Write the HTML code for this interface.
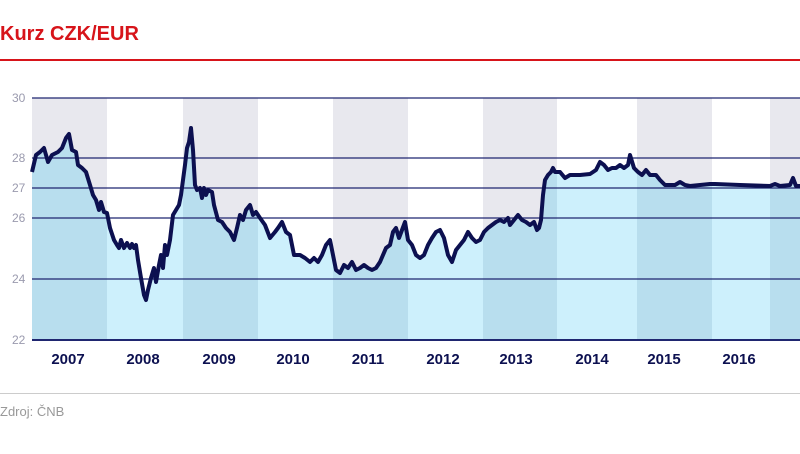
<!DOCTYPE html>
<html><head><meta charset="utf-8"><style>
body{margin:0;width:800px;height:449px;background:#fff;font-family:"Liberation Sans",sans-serif;overflow:hidden}
</style></head><body>
<svg width="800" height="449" xmlns="http://www.w3.org/2000/svg" font-family="Liberation Sans, sans-serif">
<defs>
<clipPath id="fc"><path id="fp" d=""/></clipPath>
</defs>
<text x="0" y="40" font-size="20" font-weight="bold" fill="#d7141a">Kurz CZK/EUR</text>
<rect x="0" y="59" width="800" height="2" fill="#d7141a"/>
<g id="bands">
<rect x="32" y="98" width="75" height="242" fill="#e8e8ee"/>
<rect x="183" y="98" width="75" height="242" fill="#e8e8ee"/>
<rect x="333" y="98" width="75" height="242" fill="#e8e8ee"/>
<rect x="483" y="98" width="74" height="242" fill="#e8e8ee"/>
<rect x="637" y="98" width="75" height="242" fill="#e8e8ee"/>
<rect x="770" y="98" width="30" height="242" fill="#e8e8ee"/>
</g>
<polygon id="fill" fill="#cdf0fc" points=""/>
<g clip-path="url(#fc)" fill="#b8deee">
<rect x="32" y="98" width="75" height="242"/>
<rect x="183" y="98" width="75" height="242"/>
<rect x="333" y="98" width="75" height="242"/>
<rect x="483" y="98" width="74" height="242"/>
<rect x="637" y="98" width="75" height="242"/>
<rect x="770" y="98" width="30" height="242"/>
</g>
<g stroke="#1f2670" stroke-width="1.2">
<line x1="32" x2="800" y1="98" y2="98"/>
<line x1="32" x2="800" y1="158" y2="158"/>
<line x1="32" x2="800" y1="188" y2="188"/>
<line x1="32" x2="800" y1="218" y2="218"/>
<line x1="32" x2="800" y1="279" y2="279"/>
<line x1="32" x2="800" y1="340" y2="340" stroke-width="2"/>
</g>
<g font-size="12" fill="#9a9aae">
<text x="12" y="102">30</text><text x="12" y="162">28</text><text x="12" y="192">27</text>
<text x="12" y="222">26</text><text x="12" y="283">24</text><text x="12" y="344">22</text>
</g>
<polyline id="ln" fill="none" stroke="#0c1050" stroke-width="4" stroke-linejoin="round" points=""/>
<g font-size="15" font-weight="bold" fill="#0c1050" text-anchor="middle">
<text x="68" y="364">2007</text><text x="143" y="364">2008</text><text x="219" y="364">2009</text>
<text x="293" y="364">2010</text><text x="368" y="364">2011</text><text x="443" y="364">2012</text>
<text x="516" y="364">2013</text><text x="592" y="364">2014</text><text x="664" y="364">2015</text>
<text x="739" y="364">2016</text>
</g>
<rect x="0" y="393" width="800" height="1" fill="#ccc"/>
<text x="0" y="416" font-size="13" fill="#999">Zdroj: ČNB</text>
</svg>
<script>
var p="32,172 36,155 40,152 44,148 48,162 52,155 58,152 62,148 66,138 69,134 72,150 76,152 78,165 82,168 86,172 90,185 93,195 96,200 99,210 101,202 104,212 107,213 110,228 114,240 117,245 119,248 121,240 124,248 127,243 130,248 132,244 134,248 136,245 138,260 141,278 144,295 146,300 148,290 151,278 154,268 156,282 159,265 161,255 163,268 165,245 167,255 170,240 173,215 176,210 179,205 181,195 183,180 185,165 187,148 189,142 191,128 193,150 195,185 197,190 200,188 202,198 204,188 206,195 208,190 212,192 214,205 218,220 222,222 226,228 230,232 234,240 237,228 240,215 243,220 246,210 250,205 253,215 256,212 260,218 265,225 270,238 275,232 278,228 282,222 286,232 290,235 294,255 300,255 305,258 310,262 314,258 318,262 322,255 326,245 330,240 333,255 336,270 340,273 344,265 348,268 352,262 356,270 360,268 364,265 368,268 372,270 376,268 380,262 383,255 386,248 390,245 393,232 396,228 399,238 402,230 405,222 408,240 412,245 416,255 420,258 424,255 428,245 432,238 436,232 440,230 444,238 448,255 452,262 456,250 460,245 464,240 468,232 472,238 476,242 480,240 484,232 488,228 492,225 496,222 500,220 504,222 508,218 510,225 514,220 518,215 522,220 526,222 530,225 534,222 537,230 539,228 541,220 543,195 545,180 548,175 551,172 553,168 555,172 560,172 565,178 570,175 580,175 590,174 596,170 600,162 604,165 608,170 612,168 616,168 620,165 624,168 628,165 630,155 634,168 638,172 642,175 646,170 650,175 656,175 660,180 665,185 670,185 675,185 680,182 685,185 690,186 700,185 710,184 715,184 740,185 770,186 775,184 780,186 790,185 793,178 796,186 800,186";
document.getElementById('ln').setAttribute('points',p);
var f="32,340 "+p+" 800,340";
document.getElementById('fill').setAttribute('points',f);
document.getElementById('fp').setAttribute('d','M'+f.replace(/ /g,' L')+' Z');
</script>
</body></html>
